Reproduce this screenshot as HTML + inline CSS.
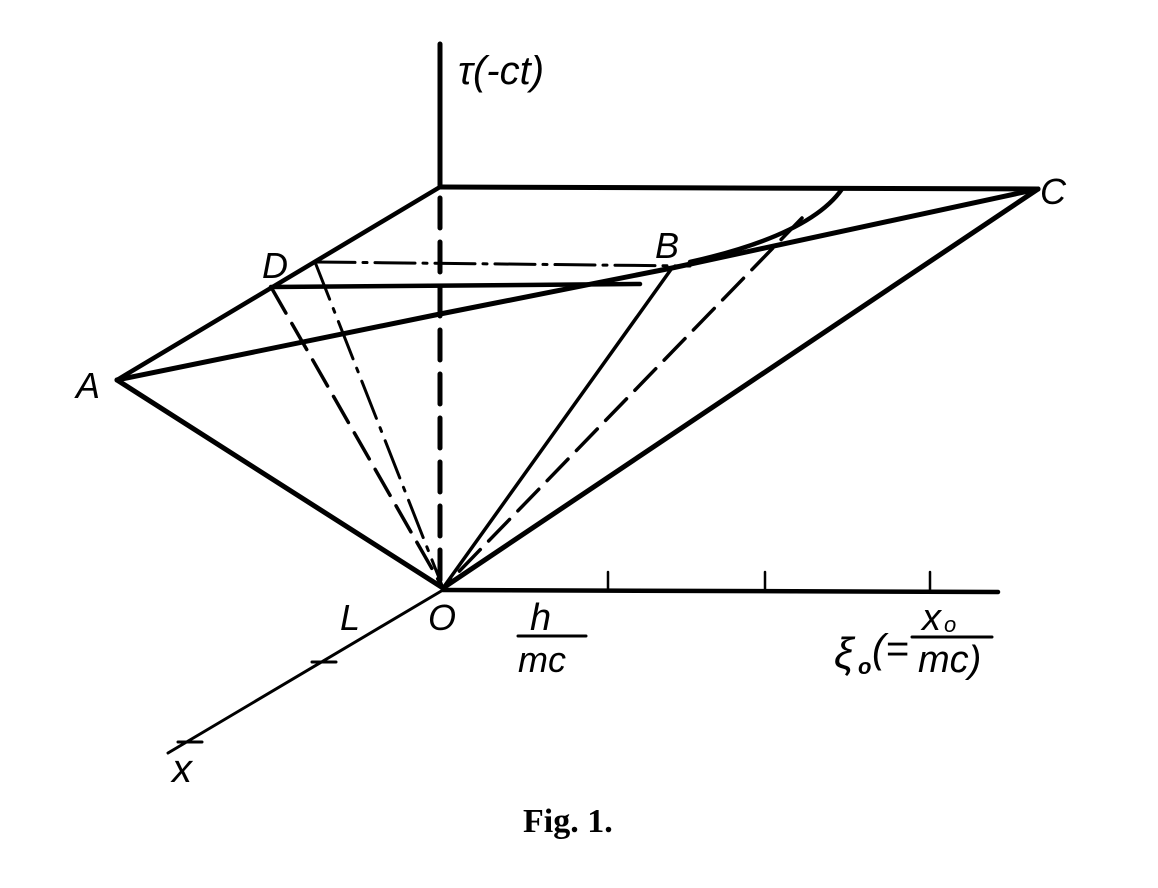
<!DOCTYPE html>
<html><head><meta charset="utf-8"><style>
html,body{margin:0;padding:0;background:#fff;}
svg{display:block}
text{font-family:"Liberation Sans",sans-serif;font-style:italic;fill:#000}
</style></head><body>
<svg width="1158" height="888" viewBox="0 0 1158 888" xmlns="http://www.w3.org/2000/svg">
<g stroke="#000" fill="none" stroke-linecap="round">
<line x1="440" y1="44" x2="440" y2="187" stroke-width="5"/>
<line x1="440" y1="198" x2="440" y2="588" stroke-width="5" stroke-dasharray="30,14"/>
<line x1="440" y1="187" x2="1038" y2="189" stroke-width="5"/>
<line x1="117" y1="380" x2="440" y2="187" stroke-width="4.5"/>
<polyline points="117,380 440,314 672,268 1038,189" stroke-width="5"/>
<line x1="271" y1="287" x2="640" y2="284" stroke-width="4.5"/>
<line x1="315" y1="262" x2="690" y2="266" stroke-width="3" stroke-dasharray="40,8,4,8"/>
<line x1="315" y1="262" x2="443" y2="588" stroke-width="3" stroke-dasharray="40,10,4,10"/>
<line x1="271" y1="287" x2="443" y2="588" stroke-width="3.5" stroke-dasharray="30,12"/>
<line x1="117" y1="380" x2="443" y2="588" stroke-width="5"/>
<line x1="672" y1="268" x2="443" y2="588" stroke-width="3.5"/>
<line x1="1038" y1="189" x2="443" y2="588" stroke-width="5"/>
<path d="M 690 262 Q 810 235 842 189" stroke-width="4.5"/>
<line x1="802" y1="218" x2="443" y2="588" stroke-width="3.5" stroke-dasharray="30,12"/>
<line x1="443" y1="590" x2="998" y2="592" stroke-width="4.5"/>
<line x1="608" y1="572" x2="608" y2="590" stroke-width="2.5"/>
<line x1="765" y1="572" x2="765" y2="590" stroke-width="2.5"/>
<line x1="930" y1="572" x2="930" y2="590" stroke-width="2.5"/>
<line x1="443" y1="590" x2="168" y2="753" stroke-width="3"/>
<line x1="312" y1="662" x2="336" y2="662" stroke-width="3"/>
<line x1="178" y1="742" x2="202" y2="742" stroke-width="3"/>
<line x1="518" y1="636" x2="586" y2="636" stroke-width="3"/>
<line x1="912" y1="637" x2="992" y2="637" stroke-width="3"/>
</g>
<text x="458" y="84" font-size="40">τ(-ct)</text>
<text x="1040" y="204" font-size="36">C</text>
<text x="655" y="258" font-size="36">B</text>
<text x="262" y="278" font-size="36">D</text>
<text x="76" y="398" font-size="36">A</text>
<text x="340" y="630" font-size="36">L</text>
<text x="428" y="630" font-size="36">O</text>
<text x="530" y="630" font-size="38">h</text>
<text x="518" y="672" font-size="36">mc</text>
<text x="834" y="668" font-size="44">ξ</text>
<text x="858" y="674" font-size="22" font-weight="bold">o</text>
<text x="872" y="662" font-size="40">(=</text>
<text x="922" y="630" font-size="38">x</text>
<text x="944" y="632" font-size="22">o</text>
<text x="918" y="672" font-size="38">mc)</text>
<text x="172" y="782" font-size="40">x</text>
<text x="523" y="832" font-size="34" font-weight="bold" style="font-family:'Liberation Serif',serif;font-style:normal">Fig. 1.</text>
</svg>
</body></html>
